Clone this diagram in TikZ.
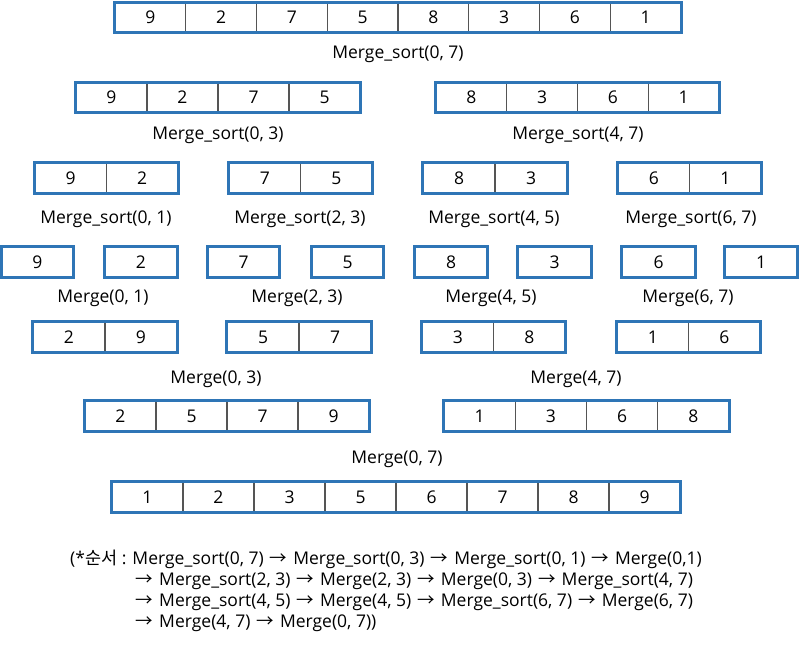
\documentclass[tikz,border=0pt]{standalone}
\usepackage{fontspec}
\setmainfont{Open Sans}
\newfontfamily\kofont{Noto Sans CJK KR}
\definecolor{boxblue}{RGB}{46,117,182}
\definecolor{divgray}{RGB}{85,85,85}
\newcommand\ar{\hspace{1.5pt}{\kofont →}\hspace{1.5pt}}
\newcommand\cellrow[7]{%
  \pgfmathsetmacro\cw{(#3-#2)/#6}%
  \pgfmathsetmacro\ch{#5-#4}%
  \foreach \v [count=\i] in {#7} {
    \node[cell, minimum width=\cw pt, minimum height=\ch pt] (#1-\i) at ({#2+(\i-0.5)*\cw}, {(#4+#5)/2}) {\v};
  }
  \draw[frame] (#1-1.north west) rectangle (#1-#6.south east);
}
\begin{document}
\begin{tikzpicture}[x=1pt,y=-1pt,
  cell/.style={draw=divgray, line width=1.2pt, inner sep=0pt, font=\fontsize{17.5}{21}\selectfont},
  frame/.style={draw=boxblue, line width=3pt},
  lbl/.style={font=\fontsize{17.5}{21}\selectfont, anchor=base, inner sep=0pt},
  note/.style={font=\fontsize{17.5}{21}\selectfont, anchor=base west, inner sep=0pt}]
\useasboundingbox (0,0) rectangle (800,645);
% row 1
\cellrow{a}{115}{681}{3}{32}{8}{9,2,7,5,8,3,6,1}
\node[lbl] (la) at (398,58) {Merge\_sort(0, 7)};
% row 2
\cellrow{b1}{76}{360}{83}{112}{4}{9,2,7,5}
\cellrow{b2}{436}{719}{83}{112}{4}{8,3,6,1}
\node[lbl] (lb1) at (218,139) {Merge\_sort(0, 3)};
\node[lbl] (lb2) at (578,139) {Merge\_sort(4, 7)};
% row 3
\cellrow{c1}{35}{178}{163}{193}{2}{9,2}
\cellrow{c2}{229}{372}{163}{193}{2}{7,5}
\cellrow{c3}{423}{567}{163}{193}{2}{8,3}
\cellrow{c4}{618}{761}{163}{193}{2}{6,1}
\node[lbl] (lc1) at (106,223) {Merge\_sort(0, 1)};
\node[lbl] (lc2) at (300,223) {Merge\_sort(2, 3)};
\node[lbl] (lc3) at (494,223) {Merge\_sort(4, 5)};
\node[lbl] (lc4) at (691,223) {Merge\_sort(6, 7)};
% row 4
\cellrow{d1}{2}{73}{247}{277}{1}{9}
\cellrow{d2}{105}{177}{247}{277}{1}{2}
\cellrow{d3}{208}{279}{247}{277}{1}{7}
\cellrow{d4}{312}{383}{247}{277}{1}{5}
\cellrow{d5}{415}{487}{247}{277}{1}{8}
\cellrow{d6}{518}{591}{247}{277}{1}{3}
\cellrow{d7}{622}{695}{247}{277}{1}{6}
\cellrow{d8}{725}{797}{247}{277}{1}{1}
\node[lbl] (ld1) at (103,302) {Merge(0, 1)};
\node[lbl] (ld2) at (297,302) {Merge(2, 3)};
\node[lbl] (ld3) at (491,302) {Merge(4, 5)};
\node[lbl] (ld4) at (688,302) {Merge(6, 7)};
% row 5
\cellrow{e1}{33}{177}{322}{352}{2}{2,9}
\cellrow{e2}{227}{371}{322}{352}{2}{5,7}
\cellrow{e3}{422}{565}{322}{352}{2}{3,8}
\cellrow{e4}{617}{760}{322}{352}{2}{1,6}
\node[lbl] (le1) at (216,383) {Merge(0, 3)};
\node[lbl] (le2) at (576,383) {Merge(4, 7)};
% row 6
\cellrow{f1}{85}{369}{401}{431}{4}{2,5,7,9}
\cellrow{f2}{444}{729}{401}{431}{4}{1,3,6,8}
\node[lbl] (lf) at (397,463) {Merge(0, 7)};
% row 7
\cellrow{g}{112}{680}{482}{512}{8}{1,2,3,5,6,7,8,9}
% note
\node[note] (n1) at (70,564) {(*{\kofont 순서} : Merge\_sort(0, 7) \ar{} Merge\_sort(0, 3) \ar{} Merge\_sort(0, 1) \ar{} Merge(0,1)};
\node[note] (n2) at (134,585) {\ar{} Merge\_sort(2, 3) \ar{} Merge(2, 3) \ar{} Merge(0, 3) \ar{} Merge\_sort(4, 7)};
\node[note] (n3) at (134,606) {\ar{} Merge\_sort(4, 5) \ar{} Merge(4, 5) \ar{} Merge\_sort(6, 7) \ar{} Merge(6, 7)};
\node[note] (n4) at (134,627) {\ar{} Merge(4, 7) \ar{} Merge(0, 7))};
\end{tikzpicture}
\end{document}
